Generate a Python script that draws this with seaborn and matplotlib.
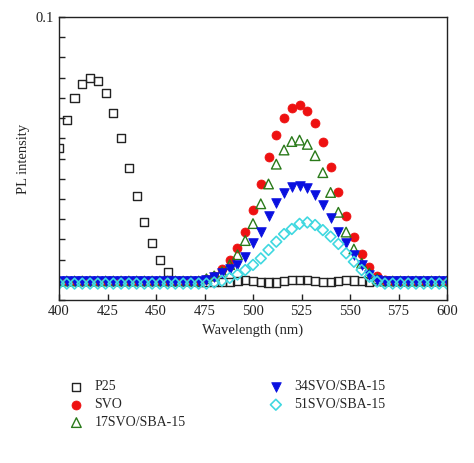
import numpy as np
import pandas as pd
import matplotlib
matplotlib.use('Agg')
import matplotlib.pyplot as plt
import seaborn as sns

# ------------------------------------ data ----------------------------------- #
wavelength = list(range(400, 601, 4))
base = 0.0067

p25 = [0.0537, 0.0636, 0.0714, 0.0763, 0.0784, 0.0774, 0.0731, 0.0661, 0.0572,
       0.0466, 0.0367, 0.0276, 0.0201, 0.0141, 0.0099] + \
      [0.0067, 0.0066, 0.0066, 0.0065, 0.0064, 0.0063, 0.0063, 0.0065, 0.0068,
       0.0070, 0.0068, 0.0064, 0.0062, 0.0062, 0.0066, 0.0070, 0.0071, 0.0070,
       0.0066, 0.0063, 0.0064, 0.0068, 0.0070, 0.0069, 0.0066, 0.0065, 0.0066,
       0.0067, 0.0067, 0.0067, 0.0067, 0.0067, 0.0067, 0.0067, 0.0067, 0.0067]
svo = [base] * 19 + [0.0075, 0.0085, 0.0110,
       0.0141, 0.0183, 0.0239, 0.0318, 0.0410, 0.0504, 0.0583, 0.0642, 0.0677,
       0.0689, 0.0669, 0.0627, 0.0557, 0.0471, 0.0383, 0.0297, 0.0224, 0.0163,
       0.0118, 0.0085, 0.0072] + [base] * 8
svo17 = [base] * 19 + [0.0075, 0.0085, 0.0100,
         0.0125, 0.0160, 0.0210, 0.0270, 0.0340, 0.0410, 0.0480, 0.0530, 0.0560,
         0.0565, 0.0550, 0.0510, 0.0450, 0.0380, 0.0310, 0.0240, 0.0180, 0.0130,
         0.0095, 0.0075] + [base] * 9
svo34 = [base] * 19 + [0.0072, 0.0080, 0.0095, 0.0110,
         0.0124, 0.0153, 0.0200, 0.0241, 0.0297, 0.0342, 0.0377, 0.0398, 0.0403,
         0.0395, 0.0371, 0.0336, 0.0291, 0.0241, 0.0200, 0.0159, 0.0124,
         0.0090, 0.0070] + [base] * 9
svo51 = [0.0058] * 20 + [0.0062, 0.0068, 0.0078, 0.0090,
         0.0106, 0.0124, 0.0147, 0.0177, 0.0206, 0.0233, 0.0251, 0.0269, 0.0274,
         0.0265, 0.0247, 0.0224, 0.0198, 0.0165, 0.0135, 0.0106, 0.0082,
         0.0065] + [0.0058] * 9

series = ['P25', 'SVO', '17SVO/SBA-15', '34SVO/SBA-15', '51SVO/SBA-15']
values = [p25, svo, svo17, svo34, svo51]

# ------------------------------------ plot ----------------------------------- #
sns.set_style('ticks')
plt.rcParams['font.family'] = ['Liberation Serif', 'DejaVu Serif']
plt.rcParams['font.size'] = 10.5

fig = plt.figure(figsize=(4.74, 4.63), dpi=100)
ax = fig.add_axes([59 / 474, 1 - 300 / 463, 388 / 474, 283 / 463])

styles = {
    'P25': dict(marker='s', facecolor='none', edgecolor='#222222', s=34, linewidth=1.0),
    'SVO': dict(marker='o', color='#ee1111', edgecolor='#ee1111', s=42),
    '17SVO/SBA-15': dict(marker='^', facecolor='none', edgecolor='#2a7a1a', s=48, linewidth=1.0),
    '34SVO/SBA-15': dict(marker='v', color='#0a10e0', edgecolor='#0a10e0', s=48),
    '51SVO/SBA-15': dict(marker='D', facecolor='none', edgecolor='#40d8e0', s=30, linewidth=1.2),
}
for name, vals in zip(series, values):
    df = pd.DataFrame({'wl': wavelength, 'pl': vals})
    sns.scatterplot(data=df, x='wl', y='pl', ax=ax, label=name, **styles[name])

ax.set_xlim(400, 600)
ax.set_ylim(0, 0.1)
ax.set_xticks(range(400, 601, 25))
yt = np.linspace(0, 0.1, 15)
ax.set_yticks(yt)
ax.set_yticklabels([''] * 14 + ['0.1'])
ax.tick_params(direction='in', length=4, width=1, colors='#222222')
ax.set_xlabel('Wavelength (nm)')
ax.set_ylabel('PL intensity')
for sp in ax.spines.values():
    sp.set_linewidth(1.0)
    sp.set_color('#222222')

h, l = ax.get_legend_handles_labels()
ax.get_legend().remove()
fig.legend(h, l, ncol=2,
           loc='upper left', bbox_to_anchor=(50 / 474, 1 - 368 / 463),
           frameon=False, handletextpad=0.3, columnspacing=5.5,
           labelspacing=0.35, fontsize=10)

plt.savefig('out.png', dpi=100)
